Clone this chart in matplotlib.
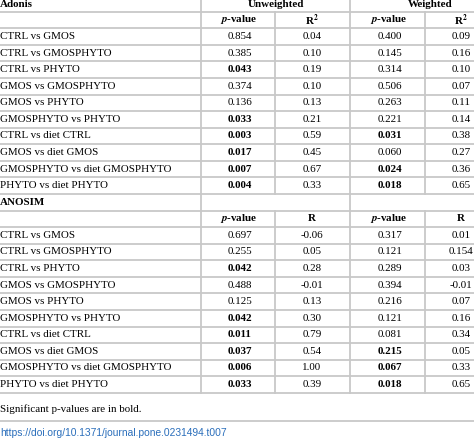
import matplotlib
matplotlib.use("Agg")
import matplotlib.pyplot as plt

comparisons = ["CTRL vs GMOS", "CTRL vs GMOSPHYTO", "CTRL vs PHYTO", "GMOS vs GMOSPHYTO",
               "GMOS vs PHYTO", "GMOSPHYTO vs PHYTO", "CTRL vs diet CTRL", "GMOS vs diet GMOS",
               "GMOSPHYTO vs diet GMOSPHYTO", "PHYTO vs diet PHYTO"]

adonis_unw_p = ["0.854", "0.385", "0.043", "0.374", "0.136", "0.033", "0.003", "0.017", "0.007", "0.004"]
adonis_unw_r2 = ["0.04", "0.10", "0.19", "0.10", "0.13", "0.21", "0.59", "0.45", "0.67", "0.33"]
adonis_w_p = ["0.400", "0.145", "0.314", "0.506", "0.263", "0.221", "0.031", "0.060", "0.024", "0.018"]
adonis_w_r2 = ["0.09", "0.16", "0.10", "0.07", "0.11", "0.14", "0.38", "0.27", "0.36", "0.65"]
adonis_unw_bold = [0, 0, 1, 0, 0, 1, 1, 1, 1, 1]
adonis_w_bold = [0, 0, 0, 0, 0, 0, 1, 0, 1, 1]

anosim_unw_p = ["0.697", "0.255", "0.042", "0.488", "0.125", "0.042", "0.011", "0.037", "0.006", "0.033"]
anosim_unw_r = ["-0.06", "0.05", "0.28", "-0.01", "0.13", "0.30", "0.79", "0.54", "1.00", "0.39"]
anosim_w_p = ["0.317", "0.121", "0.289", "0.394", "0.216", "0.121", "0.081", "0.215", "0.067", "0.018"]
anosim_w_r = ["0.01", "0.154", "0.03", "-0.01", "0.07", "0.16", "0.34", "0.05", "0.33", "0.65"]
anosim_unw_bold = [0, 0, 1, 0, 0, 1, 1, 1, 1, 1]
anosim_w_bold = [0, 0, 0, 0, 0, 0, 0, 1, 1, 1]

W, H = 474, 440
fig = plt.figure(figsize=(W / 100, H / 100), dpi=100)
ax = fig.add_axes([0, 0, 1, 1])
ax.set_xlim(0, W)
ax.set_ylim(H, 0)
ax.axis("off")

FONT = "Liberation Serif"
FS = 7.9
LC = "#c8c8c8"
pitch = 16.57
top = 11.7
colx = [240, 312, 390, 461]
plt.rcParams["mathtext.fontset"] = "stix"

def row_center(i):
    return top + pitch * (i - 0.5)

def hline(y):
    ax.plot([0, W], [y, y], color=LC, lw=1.3, solid_capstyle="butt")

def block(start, title, p1, r1, p2, r2, b1, b2, rlabel):
    yc = row_center(start) + (1.5 if start == 0 else 0)
    ax.text(0, yc, title, fontfamily=FONT, fontsize=FS, fontweight="bold", va="center", ha="left")
    yc = row_center(start + 1)
    for x in (colx[0], colx[2]):
        ax.text(x - 1, yc, r"$\mathbfit{p}$" + "-value", fontfamily=FONT, fontsize=FS,
                fontweight="bold", va="center", ha="center")
    for x in (colx[1], colx[3]):
        ax.text(x, yc, rlabel, fontfamily=FONT, fontsize=FS, fontweight="bold", va="center", ha="center")
    for k, name in enumerate(comparisons):
        yc = row_center(start + 2 + k)
        ax.text(0, yc, name, fontfamily=FONT, fontsize=FS, va="center", ha="left")
        vals = [(p1[k], b1[k]), (r1[k], 0), (p2[k], b2[k]), (r2[k], 0)]
        for x, (v, b) in zip(colx, vals):
            ax.text(x, yc, v, fontfamily=FONT, fontsize=FS, fontweight="bold" if b else "normal",
                    va="center", ha="center")
    y_title_top = top + pitch * (start - 1)
    y_sub_top = top + pitch * start
    y_end = top + pitch * (start + 11)
    for x in (201, 350):
        ax.plot([x, x], [y_title_top, y_end], color=LC, lw=1.3)
    for x in (275, 425):
        ax.plot([x, x], [y_sub_top, y_end], color=LC, lw=1.3)

block(0, "Adonis", adonis_unw_p, adonis_unw_r2, adonis_w_p, adonis_w_r2,
      adonis_unw_bold, adonis_w_bold, r"R$^{\mathbf{2}}$")
block(12, "ANOSIM", anosim_unw_p, anosim_unw_r, anosim_w_p, anosim_w_r,
      anosim_unw_bold, anosim_w_bold, "R")
ax.text(276, row_center(0) + 1.5, "Unweighted", fontfamily=FONT, fontsize=FS, fontweight="bold", va="center", ha="center")
ax.text(430, row_center(0) + 1.5, "Weighted", fontfamily=FONT, fontsize=FS, fontweight="bold", va="center", ha="center")

for i in range(24):
    hline(top + pitch * i)

ax.text(0, 409, "Significant p-values are in bold.", fontfamily=FONT, fontsize=FS, va="center", ha="left")
hline(420.7)
ax.text(0, 433.5, "https://doi.org/10.1371/journal.pone.0231494.t007", fontfamily="Liberation Sans",
        fontsize=7.4, color="#2a6ebb", va="center", ha="left")

fig.savefig("out.png", dpi=100, facecolor="white")
